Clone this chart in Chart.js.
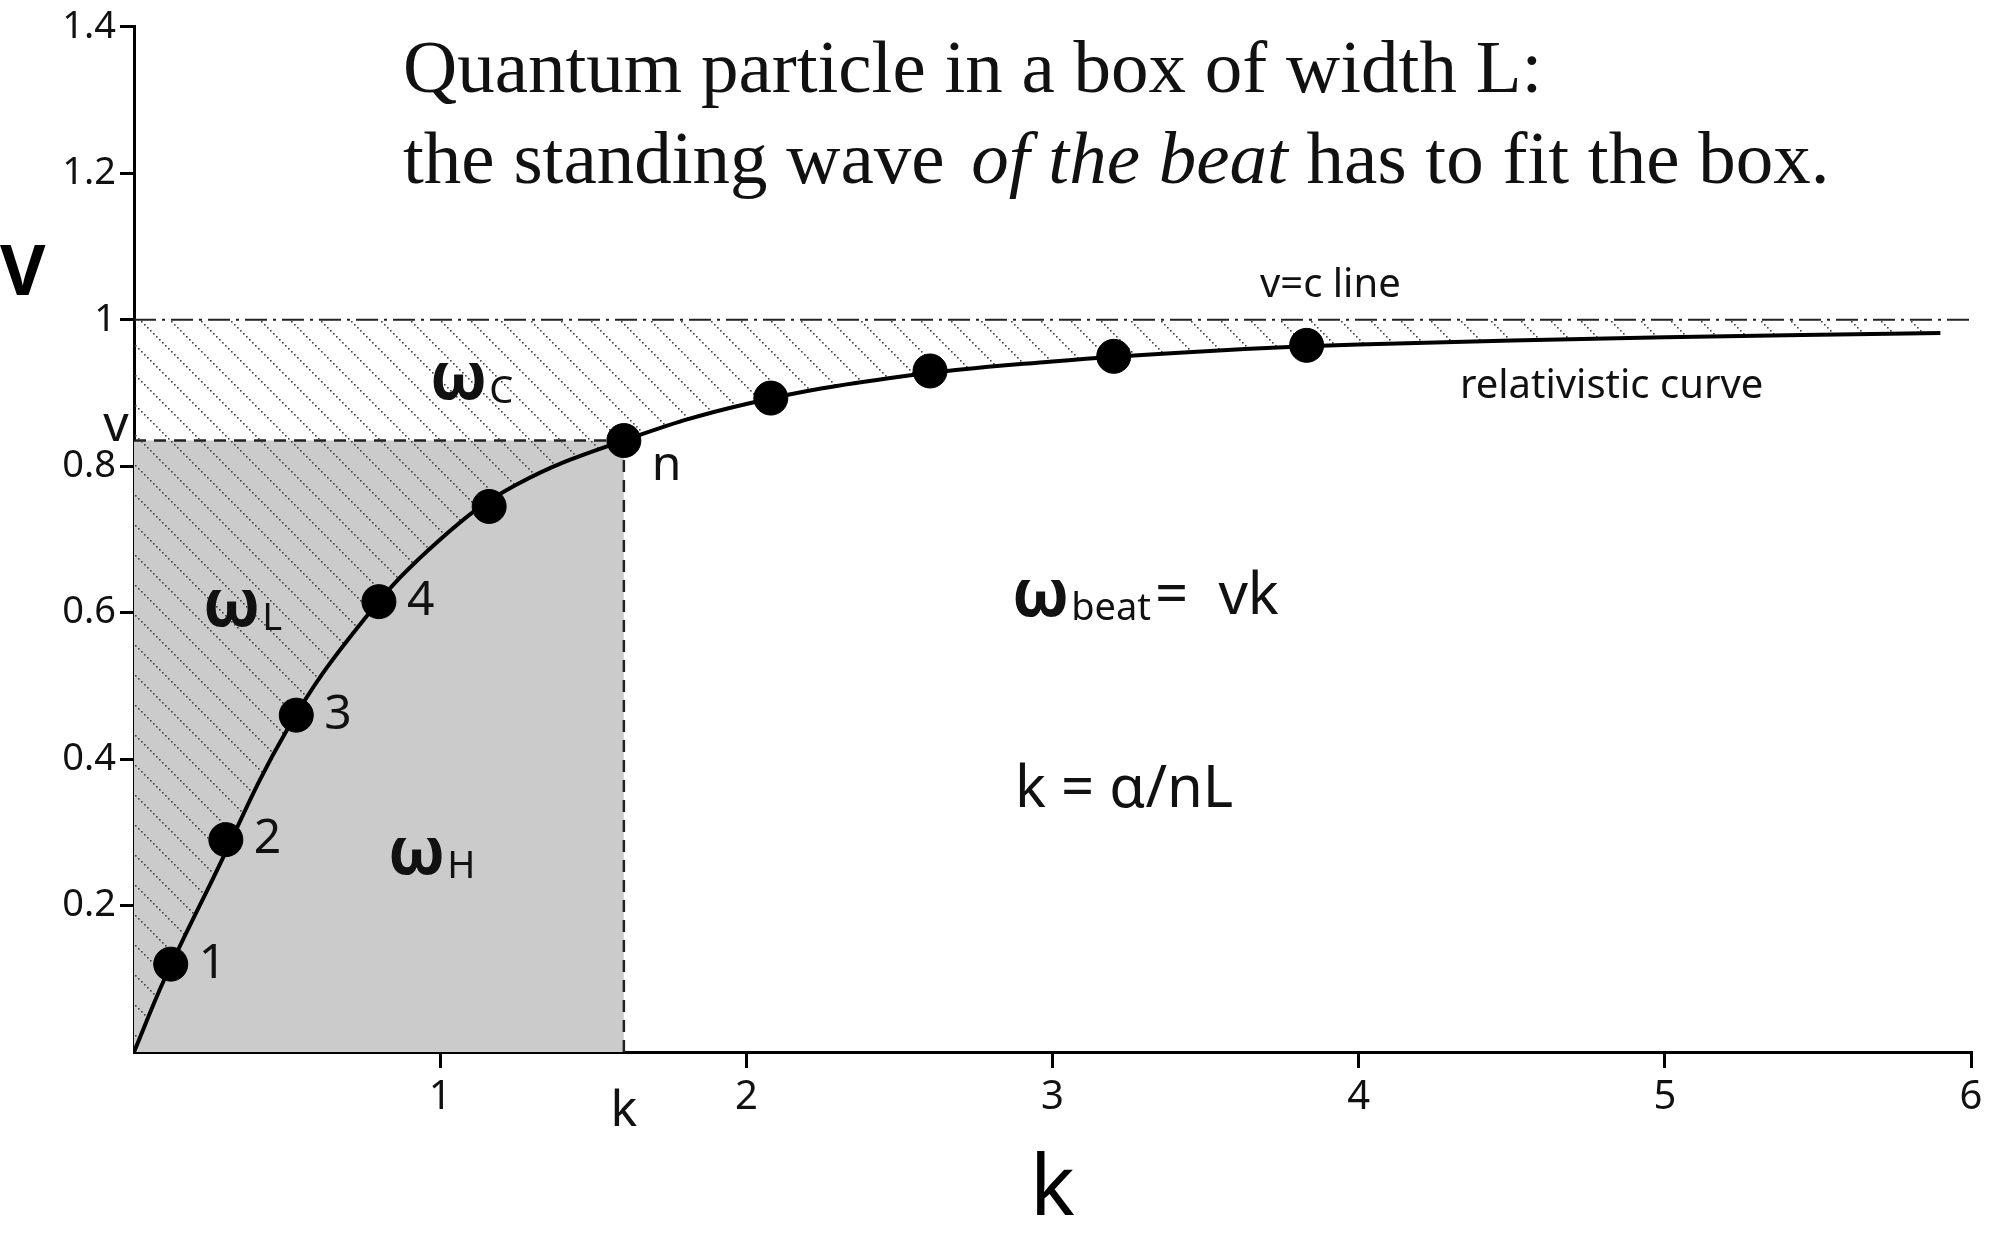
<!DOCTYPE html>
<html><head><meta charset="utf-8">
<script src="https://cdn.jsdelivr.net/npm/chart.js@4"></script>
<style>html,body{margin:0;background:#fff}#wrap{width:2000px;height:1241px}</style>
</head><body><div id="wrap"><canvas id="c"></canvas></div>
<script>
const curveK = [0, 0.1, 0.25, 0.5, 0.75, 1, 1.25, 1.6, 2, 2.5, 3, 3.5, 4, 5, 5.9];
const curveV = [0, 0.1, 0.23, 0.44, 0.59, 0.70, 0.775, 0.835, 0.885, 0.922, 0.943, 0.957, 0.966, 0.976, 0.982];
const dotK = [0.12, 0.3, 0.53, 0.8, 1.16, 1.6, 2.08, 2.6, 3.2, 3.83];
const dotV = [0.12, 0.29, 0.46, 0.615, 0.745, 0.835, 0.893, 0.93, 0.95, 0.965];
const dotLabels = ['1', '2', '3', '4', '', 'n', '', '', '', ''];
const nK = 1.6, nV = 0.835;
const xTicks = [1, 2, 3, 4, 5, 6];
const yTicks = [0.2, 0.4, 0.6, 0.8, 1, 1.2, 1.4];

function hatch() {
  const p = document.createElement('canvas');
  p.width = 30; p.height = 30;
  const g = p.getContext('2d');
  g.fillStyle = '#444';
  for (let i = 0; i < 10; i++) {
    g.fillRect(i * 3, i * 3, 1.6, 1.6);
  }
  return g.createPattern(p, 'repeat');
}

function omega(ctx, x, y, sub) {
  ctx.font = 'bold 66px "Noto Sans"';
  ctx.fillText('ω', x, y);
  const w = ctx.measureText('ω').width;
  ctx.font = '38px "Noto Sans"';
  ctx.fillText(sub, x + w + 2, y + 12);
  return x + w + 2 + ctx.measureText(sub).width;
}

const texts = {
  id: 'texts',
  afterDatasetsDraw(chart) {
    const { ctx, scales: { x, y } } = chart;
    ctx.save();
    ctx.fillStyle = '#111';
    ctx.textBaseline = 'middle';
    ctx.font = '48px "Noto Sans"';
    dotK.forEach((k, i) => {
      if (!dotLabels[i]) return;
      const dy = dotLabels[i] === 'n' ? 0.035 : 0;
      ctx.fillText(dotLabels[i], x.getPixelForValue(k) + 28, y.getPixelForValue(dotV[i] - dy));
    });
    ctx.font = '75px "Liberation Serif"';
    ctx.textAlign = 'left';
    ctx.fillText('Quantum particle in a box of width L:', 403, 72);
    ctx.fillText('the standing wave ', 403, 163);
    let w = ctx.measureText('the standing wave ').width;
    ctx.font = 'italic 75px "Liberation Serif"';
    ctx.fillText('of the beat', 403 + w + 8, 163);
    w += ctx.measureText('of the beat').width + 8;
    ctx.font = '75px "Liberation Serif"';
    ctx.fillText(' has to fit the box.', 403 + w, 163);
    ctx.font = '40px "Noto Sans"';
    ctx.fillText('v=c line', 1260, 286);
    ctx.fillText('relativistic curve', 1460, 387);
    omega(ctx, 430, 380, 'C');
    omega(ctx, 203, 607, 'L');
    omega(ctx, 388, 855, 'H');
    const e = omega(ctx, 1012, 597, 'beat');
    ctx.font = '58px "Noto Sans"';
    ctx.fillText('=  vk', e + 4, 597);
    ctx.fillText('k = α/nL', 1015, 790);
    // k and v markers on the axes
    ctx.font = '50px "Noto Sans"';
    ctx.textAlign = 'center';
    ctx.fillText('k', x.getPixelForValue(nK), 1112);
    ctx.fillText('v', 116, y.getPixelForValue(nV) - 14);
    ctx.restore();
  }
};

new Chart(document.getElementById('c'), {
  type: 'scatter',
  data: {
    datasets: [
      { // box under n
        data: [{ x: 0, y: nV }, { x: nK, y: nV }],
        showLine: true, pointRadius: 0, borderColor: '#222', borderWidth: 2.5,
        borderDash: [12, 8], fill: 'origin', backgroundColor: '#cbcbcb', order: 10
      },
      {
        data: [{ x: nK, y: 0 }, { x: nK, y: nV }],
        showLine: true, pointRadius: 0, borderColor: '#222', borderWidth: 2.5, borderDash: [12, 8], order: 5
      },
      { // v = c
        data: [{ x: 0, y: 1 }, { x: 6, y: 1 }],
        showLine: true, pointRadius: 0, borderColor: '#222', borderWidth: 2,
        borderDash: [22, 6, 3, 6], order: 4
      },
      { // relativistic curve, hatched up to v=c
        data: curveK.map((k, i) => ({ x: k, y: curveV[i] })),
        showLine: true, pointRadius: 0, borderColor: '#000', borderWidth: 4,
        tension: 0.4, fill: { target: { value: 1 } }, backgroundColor: hatch(), order: 2
      },
      {
        data: dotK.map((k, i) => ({ x: k, y: dotV[i] })),
        pointRadius: 17, backgroundColor: '#000', borderColor: '#000', order: 0
      }
    ]
  },
  options: {
    responsive: true, maintainAspectRatio: false, animation: false,
    layout: { padding: { top: 23, right: 29 } },
    plugins: { legend: { display: false }, tooltip: { enabled: false } },
    scales: {
      x: {
        type: 'linear', min: 0, max: 6,
        afterFit: s => { s.height = 189; },
        afterBuildTicks: s => { s.ticks = xTicks.map(v => ({ value: v })); },
        grid: { drawOnChartArea: false, color: '#000', lineWidth: 3, tickLength: 16 },
        border: { color: '#000', width: 3 },
        ticks: { color: '#111', font: { size: 40, family: 'Noto Sans' }, padding: 6 },
        title: { display: true, text: 'k', color: '#000', font: { size: 84, family: 'Noto Sans' }, padding: 0 }
      },
      y: {
        min: 0, max: 1.4,
        afterFit: s => { s.width = 134; },
        afterBuildTicks: s => { s.ticks = yTicks.map(v => ({ value: v })); },
        grid: { drawOnChartArea: false, color: '#000', lineWidth: 3, tickLength: 14 },
        border: { color: '#000', width: 3 },
        ticks: { color: '#111', font: { size: 38, family: 'Noto Sans' }, padding: 4,
          callback: v => v === 1 ? '1' : v.toFixed(1) },
        title: { display: false }
      }
    }
  },
  plugins: [texts, {
    id: 'vlabel',
    afterDraw(chart) {
      const ctx = chart.ctx;
      ctx.save();
      ctx.font = 'bold 70px "Noto Sans"';
      ctx.fillStyle = '#000';
      ctx.fillText('V', 0, 295);
      ctx.restore();
    }
  }]
});
</script></body></html>
